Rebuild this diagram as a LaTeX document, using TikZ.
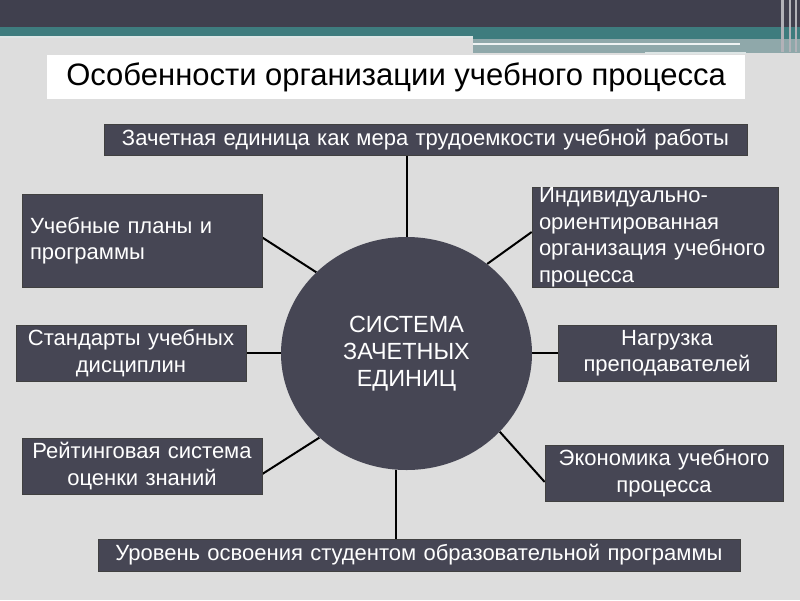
\documentclass[tikz,border=0pt]{standalone}
\usepackage{fontspec}
\setmainfont{Liberation Sans}
\usetikzlibrary{shapes.geometric,backgrounds}
\definecolor{slidebg}{RGB}{221,221,221}
\definecolor{boxfill}{RGB}{70,70,84}
\definecolor{barfill}{RGB}{64,64,78}
\definecolor{tealA}{RGB}{62,124,126}
\definecolor{tealB}{RGB}{143,168,170}

\begin{document}
\begin{tikzpicture}[x=1pt,y=-1pt,
 box/.style={draw=black!75,line width=0.6pt,fill=boxfill,text=white,inner xsep=8pt,inner ysep=0pt,
             font=\fontsize{22}{26.5}\selectfont,align=center},
 lbox/.style={box,align=left},
 hub/.style={ellipse,fill=boxfill,text=white,inner sep=0pt,minimum width=251pt,minimum height=233pt,
             font=\fontsize{23.4}{27}\selectfont,align=center},
 link/.style={line width=2pt,black}
]
% title
\node[fill=white,minimum width=698pt,minimum height=44pt,inner sep=0pt,
      font=\fontsize{31}{31}\selectfont] (title) at (396,77) {Особенности организации учебного процесса};

% centre and the boxes round it
\node[hub] (sys) at (406.5,353.5) {СИСТЕМА\\ЗАЧЕТНЫХ\\ЕДИНИЦ};
\node[box,minimum width=643pt,minimum height=31pt,text width=627pt] (unit) at (425.5,139.5)
  {Зачетная единица как мера трудоемкости учебной работы};
\node[lbox,minimum width=240pt,minimum height=93pt,text width=224pt] (plans) at (142,240.5)
  {Учебные планы и\\программы};
\node[box,minimum width=230pt,minimum height=56pt,text width=214pt] (standards) at (131,353)
  {Стандарты учебных\\дисциплин};
\node[box,minimum width=240pt,minimum height=56pt,text width=224pt] (rating) at (142,466)
  {Рейтинговая система\\оценки знаний};
\node[lbox,minimum width=246pt,minimum height=100pt,text width=232pt,inner xsep=7pt] (individ) at (655,237)
  {Индивидуально-\\ориентированная\\организация учебного\\процесса};
\node[box,minimum width=218pt,minimum height=56pt,text width=202pt] (load) at (667,353)
  {Нагрузка\\преподавателей};
\node[box,minimum width=238pt,minimum height=56pt,text width=222pt] (econ) at (664,473)
  {Экономика учебного\\процесса};
\node[box,minimum width=642pt,minimum height=32pt,text width=626pt] (level) at (419,555)
  {Уровень освоения студентом образовательной программы};

\begin{scope}[on background layer]
% slide background and top band
\fill[slidebg] (0,0) rectangle (800,600);
\fill[barfill] (0,0) rectangle (800,27);
\fill[tealA] (0,27) rectangle (800,36);
\fill[white!70!tealB] (0,36) rectangle (473,38);
\fill[tealA] (473,36) rectangle (800,39);
\fill[tealB] (473,39) rectangle (800,53);
\fill[white!85!tealB] (473,43) rectangle (740,45);
\fill[white!70!tealB] (645,52) rectangle (746,54);
\fill[white!60!barfill] (781,0) rectangle (784,52);
\fill[white!60!barfill] (789,0) rectangle (791,52);
\fill[white!60!barfill] (795,0) rectangle (797,52);

% connectors, under the centre
\draw[link] (unit.south -| sys.north) -- (sys.north);
\draw[link] ([yshift=3pt]plans.east) -- (sys.138);
\draw[link] (standards.east) -- (standards.east -| sys.west);
\draw[link] ([yshift=-8pt]rating.east) -- (sys.224);
\draw[link] ([yshift=5pt]individ.west) -- (sys.48);
\draw[link] (load.west) -- (load.west -| sys.east);
\draw[link] ([yshift=-9pt]econ.west) -- (sys.-40);
\draw[link] (sys.265) -- (sys.265 |- level.north);
\end{scope}
\useasboundingbox (0,0) rectangle (800,600);
\end{tikzpicture}
\end{document}
